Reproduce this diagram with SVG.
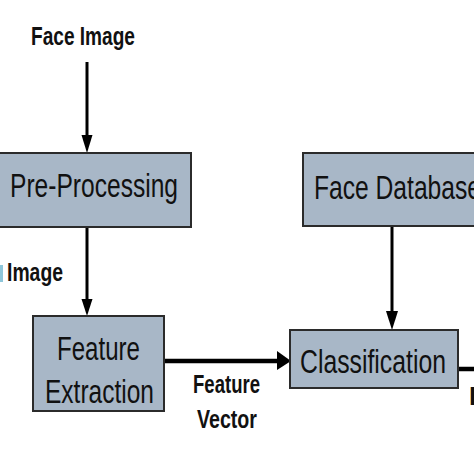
<svg xmlns="http://www.w3.org/2000/svg" width="474" height="474" viewBox="0 0 474 474">
<style>
.box{fill:#a8b7c7;stroke:#2b2b2b;stroke-width:2}
.bt{font-family:"Liberation Sans",Arial,sans-serif;font-size:34px;fill:#111}
.lb{font-family:"Liberation Sans",Arial,sans-serif;font-size:26px;font-weight:bold;fill:#111}
.ln{stroke:#000;stroke-width:3;fill:none}
.lnw{stroke:#000;stroke-width:4.5;fill:none}
.ah{fill:#000}
</style>
<rect width="474" height="474" fill="#fff"/>
<g id="connectors">
<line class="ln" x1="87" y1="62" x2="87" y2="137"/>
<polygon class="ah" points="81.5,135 92.5,135 87,153"/>
<line class="ln" x1="87" y1="227" x2="87" y2="301"/>
<polygon class="ah" points="81.5,299 92.5,299 87,316"/>
<line class="lnw" x1="164" y1="361" x2="279" y2="361"/>
<polygon class="ah" points="277,351 277,370 291,361"/>
<line class="ln" x1="392" y1="226" x2="392" y2="313"/>
<polygon class="ah" points="386,311 398,311 392,330"/>
<line class="lnw" x1="458" y1="369" x2="474" y2="369"/>
</g>
<g id="label-face-image"><text class="lb" x="31" y="45" textLength="104" lengthAdjust="spacingAndGlyphs">Face Image</text></g>
<g id="node-preprocessing">
<rect class="box" x="-2" y="153" width="193" height="74"/>
<text class="bt" x="10" y="197" textLength="168" lengthAdjust="spacingAndGlyphs">Pre-Processing</text>
</g>
<g id="label-image">
<rect x="0" y="265" width="3" height="17" fill="#8ec6da"/>
<text class="lb" x="7" y="281" textLength="56" lengthAdjust="spacingAndGlyphs">Image</text>
</g>
<g id="node-feature-extraction">
<rect class="box" x="33" y="316" width="131" height="95"/>
<text class="bt" x="57" y="360" textLength="83" lengthAdjust="spacingAndGlyphs">Feature</text>
<text class="bt" x="45" y="403" textLength="109" lengthAdjust="spacingAndGlyphs">Extraction</text>
</g>
<g id="label-feature-vector">
<text class="lb" x="193" y="393" textLength="67" lengthAdjust="spacingAndGlyphs">Feature</text>
<text class="lb" x="197" y="428" textLength="60" lengthAdjust="spacingAndGlyphs">Vector</text>
</g>
<g id="node-face-database">
<rect class="box" x="303" y="153" width="180" height="73"/>
<text class="bt" x="314" y="199" textLength="167" lengthAdjust="spacingAndGlyphs">Face Database</text>
</g>
<g id="node-classification">
<rect class="box" x="290" y="330" width="168" height="58"/>
<text class="bt" x="300" y="373" textLength="146" lengthAdjust="spacingAndGlyphs">Classification</text>
</g>
<g id="label-result"><text class="lb" x="469" y="405">R</text></g>
</svg>
